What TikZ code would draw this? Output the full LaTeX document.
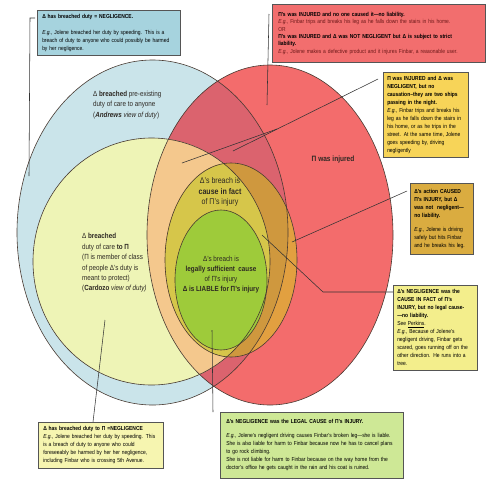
\documentclass[tikz,border=0pt]{standalone}
\usepackage{fontspec}
\setmainfont{Liberation Sans}[FakeStretch=0.85]
\usepackage{tikz}
\usetikzlibrary{positioning}
\definecolor{dutyBlue}{RGB}{202,228,234}
\definecolor{injRed}{RGB}{243,108,108}
\definecolor{injRedDark}{RGB}{219,99,110}
\definecolor{cardYellow}{RGB}{238,244,182}
\definecolor{peach}{RGB}{244,200,141}
\definecolor{causeOrange}{RGB}{226,160,64}
\definecolor{causeOchre}{RGB}{207,152,62}
\definecolor{causeOlive}{RGB}{214,198,74}
\definecolor{legalGreen}{RGB}{158,203,58}
\definecolor{ovalLine}{RGB}{72,58,50}
\definecolor{boxLine}{RGB}{85,85,85}
\definecolor{boxBlue}{RGB}{166,211,222}
\definecolor{boxRed}{RGB}{242,110,110}
\definecolor{boxGold}{RGB}{247,212,88}
\definecolor{boxOchre}{RGB}{218,172,64}
\definecolor{boxPale}{RGB}{243,238,140}
\definecolor{boxGreen}{RGB}{206,232,150}
\definecolor{boxCream}{RGB}{246,245,176}
\definecolor{egRed}{RGB}{110,25,25}
\definecolor{lblGray}{RGB}{45,40,35}

\begin{document}
\begin{tikzpicture}[x=1pt, y=-1pt,
  dutyR/.style={x radius=135.5pt, y radius=172.5pt},
  cardR/.style={x radius=118.5pt, y radius=123.5pt},
  injR/.style={x radius=123pt, y radius=170pt},
  causeR/.style={x radius=66pt, y radius=97pt},
  legalR/.style={x radius=46pt, y radius=70pt},
  outline/.style={draw=ovalLine, line width=0.6pt},
  pointer/.style={draw=black!80, line width=0.55pt},
  box/.style={draw=boxLine, line width=0.5pt, anchor=north west, align=left,
    inner xsep=4pt, inner ysep=2pt, font={\fontsize{5.8}{8}\selectfont}},
  ovalText/.style={align=left, text=lblGray, inner sep=0pt,
    font={\fontsize{7.4}{10.4}\selectfont}}]
\fill[white] (0,0) rectangle (488,488);
\useasboundingbox (0,0) rectangle (488,488);

\coordinate (dutyC) at (152.5,232.5);
\coordinate (cardC) at (151.5,261.5);
\coordinate (injC) at (270,235);
\coordinate (causeC) at (231,260);
\coordinate (legalC) at (221,280);

% regions
\fill[dutyBlue] (dutyC) ellipse [dutyR];
\fill[injRed] (injC) ellipse [injR];
\begin{scope}
  \clip (dutyC) ellipse [dutyR];
  \fill[injRedDark] (injC) ellipse [injR];
\end{scope}
\fill[cardYellow] (cardC) ellipse [cardR];
\begin{scope}
  \clip (cardC) ellipse [cardR];
  \fill[peach] (injC) ellipse [injR];
\end{scope}
\fill[causeOrange] (causeC) ellipse [causeR];
\begin{scope}
  \clip (dutyC) ellipse [dutyR];
  \fill[causeOchre] (causeC) ellipse [causeR];
\end{scope}
\begin{scope}
  \clip (cardC) ellipse [cardR];
  \fill[causeOlive] (causeC) ellipse [causeR];
\end{scope}
\fill[legalGreen] (legalC) ellipse [legalR];

\path[outline] (dutyC) ellipse [dutyR];
\path[outline] (cardC) ellipse [cardR];
\path[outline] (injC) ellipse [injR];
\path[outline] (causeC) ellipse [causeR];
\path[outline] (legalC) ellipse [legalR];

% labels inside the ovals
\node[ovalText, anchor=west] (dutyLbl) at (93,105)
  {Δ \textbf{breached} pre-existing\\duty of care to anyone\\(\textbf{\textit{Andrews}} \textit{view of duty})};
\node[ovalText, anchor=west] (cardLbl) at (82,263)
  {Δ \textbf{breached}\\duty of care \textbf{to Π}\\(Π is member of class\\of people Δ's duty is\\meant to protect)\\(\textbf{Cardozo} \textit{view of duty)}};
\node[ovalText, font={\fontsize{7.7}{9}\selectfont\bfseries}] (injLbl) at (333,160) {Π was injured};
\node[ovalText, align=center, font={\fontsize{8.3}{10.6}\selectfont}] (factLbl) at (220,192)
  {Δ's breach is\\\textbf{cause in fact}\\of Π's injury};
\node[ovalText, align=center, font={\fontsize{7.4}{10}\selectfont}] (legalLbl) at (221,275)
  {Δ's breach is\\\textbf{legally sufficient~ cause}\\of Π's injury\\\textbf{Δ is LIABLE for Π's injury}};

% boxes
\node[box, fill=boxBlue, inner xsep=5pt, text width=133pt, minimum height=45pt] (negBox) at (37,10)
  {\textbf{Δ has breached duty = NEGLIGENCE.}\\[8pt]
   \textit{E.g.}, Jolene breached her duty by speeding. This is a\\
   breach of duty to anyone who could possibly be harmed\\
   by her negligence.};
\node[box, fill=boxRed, inner xsep=6pt, text width=201pt, minimum height=58pt,
      font={\fontsize{5.8}{7.4}\selectfont}] (noCauseBox) at (272,4)
  {\textbf{Π's was INJURED and no one caused it—no liability.}\\
   \textcolor{egRed}{\textit{E.g.}, Finbar trips and breaks his leg as he falls down the stairs in his home.}\\
   \textcolor{egRed}{OR}\\
   \textbf{Π's was INJURED and Δ was NOT NEGLIGENT but Δ is subject to strict}\\
   \textbf{liability.}\\
   \textcolor{egRed}{\textit{E.g.}, Jolene makes a defective product and it injures Finbar, a reasonable user.}};
\node[box, fill=boxGold, text width=77pt, minimum height=85pt] (shipsBox) at (383,72)
  {\textbf{Π was INJURED and Δ was}\\\textbf{NEGLIGENT, but no}\\\textbf{causation--they are two ships}\\\textbf{passing in the night.}\\
   \textit{E.g.}, Finbar trips and breaks his\\leg as he falls down the stairs in\\his home, or as he trips in the\\street. At the same time, Jolene\\goes speeding by, driving\\negligently};
\node[box, fill=boxOchre, text width=55pt, minimum height=71pt] (actionBox) at (410,183)
  {\textbf{Δ's action CAUSED}\\\textbf{Π's INJURY, but Δ}\\\textbf{was not~ negligent—}\\\textbf{no liability.}\\[6pt]
   \textit{E.g.}, Jolene is driving\\safely but hits Finbar\\and he breaks his leg.};
\node[box, fill=boxPale, text width=76pt, minimum height=85pt] (factBox) at (393,285)
  {\textbf{Δ's NEGLIGENCE was the}\\\textbf{CAUSE IN FACT of Π's}\\\textbf{INJURY, but no legal cause-}\\\textbf{—no liability.}\\
   See \underline{Perkins}.\\\textit{E.g.}, Because of Jolene's\\negligent driving, Finbar gets\\scared, goes running off on the\\other direction. He runs into a\\tree.};
\node[box, fill=boxGreen, inner xsep=6pt, text width=171pt, minimum height=66pt] (legalBox) at (220,412)
  {\textbf{Δ's NEGLIGENCE was the LEGAL CAUSE of Π's INJURY.}\\[6pt]
   \textit{E.g.}, Jolene's negligent driving causes Finbar's broken leg—she is liable.\\
   She is also liable for harm to Finbar because now he has to cancel plans\\
   to go rock climbing.\\
   She is not liable for harm to Finbar because on the way home from the\\
   doctor's office he gets caught in the rain and his coat is ruined.};
\node[box, fill=boxCream, inner xsep=5pt, text width=115pt, minimum height=46pt] (dutyPiBox) at (38,422)
  {\textbf{Δ has breached duty to Π =NEGLIGENCE}\\
   \textit{E.g.}, Jolene breached her duty by speeding. This\\
   is a breach of duty to anyone who could\\
   foreseeably be harmed by her her negligence,\\
   including Finbar who is crossing 5th Avenue.};

% pointer ends
\coordinate (negEnd) at (29,176);
\coordinate (noCauseEnd) at (267,105);
\coordinate (shipsEnd) at (233,151);
\coordinate (shipsFork) at (277,129);
\coordinate (shipsEndB) at (182,163);
\coordinate (actionEnd) at (292,242);
\coordinate (factEnd) at (262,235);
\coordinate (legalEnd) at (212,330);
\coordinate (dutyPiEnd) at (105,320);

\draw[pointer] ([shift={(-2pt,-8pt)}]negBox.north west) -- ++(-5,0) -- (negEnd);
\draw[pointer] ([shift={(-3pt,-10pt)}]noCauseBox.north west) -- (noCauseEnd);
\draw[pointer] ([shift={(-5pt,-7pt)}]shipsBox.north west) -- (shipsEnd);
\draw[pointer] (shipsFork) -- (shipsEndB);
\draw[pointer] ([shift={(-3pt,-8pt)}]actionBox.north west) -- (actionEnd);
\draw[pointer] ([yshift=-7pt]factBox.north west) -- ++(-70,0) -- (factEnd);
\draw[pointer] ([xshift=-7pt]legalBox.north west) -- (legalEnd);
\draw[pointer] ([xshift=55pt]dutyPiBox.north west) -- (dutyPiEnd);
\end{tikzpicture}
\end{document}
